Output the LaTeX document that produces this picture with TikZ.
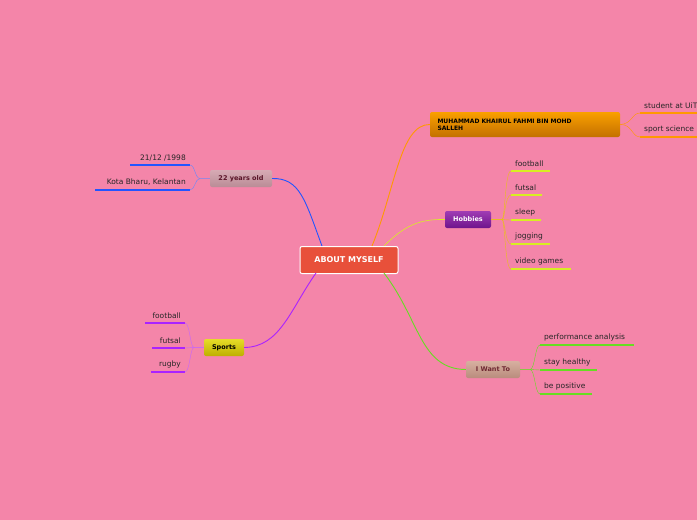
\documentclass[tikz,border=0pt]{standalone}
\usepackage{fontspec}
\setmainfont{DejaVu Sans}
\begin{document}
\begin{tikzpicture}[x=1pt,y=-1pt,
  box/.style={rounded corners=2pt,minimum height=17pt,inner sep=2pt,font=\bfseries\fontsize{6.5}{7.5}\selectfont},
  leaf/.style={font=\fontsize{7.5}{8}\selectfont,text=black!85,anchor=south west,inner sep=1pt},
  br/.style={line width=0.9pt}]
\definecolor{bg}{HTML}{F485A9}
\definecolor{cblue}{HTML}{2255FF}
\definecolor{cpur}{HTML}{AA22FF}
\definecolor{cora}{HTML}{FF9900}
\definecolor{cyel}{HTML}{D8EE22}
\definecolor{cgrn}{HTML}{66DD22}
\fill[bg] (0,0) rectangle (697,520);
\useasboundingbox (0,0) rectangle (697,520);
\clip (0,0) rectangle (697,520);
% central
\node[box,draw=white,line width=1pt,fill={rgb,255:red,232;green,80;blue,58},text=white,minimum width=98pt,minimum height=27pt,font=\bfseries\fontsize{8}{9}\selectfont] (c) at (349,260) {ABOUT MYSELF};
\node[box,top color={rgb,255:red,250;green,160;blue,0},bottom color={rgb,255:red,195;green,112;blue,0},minimum width=190pt,minimum height=25pt,text width=175pt,align=left,font=\bfseries\fontsize{6}{7}\selectfont] (n) at (525,124.5) {MUHAMMAD KHAIRUL FAHMI BIN MOHD\\SALLEH};
\node[box,top color={rgb,255:red,160;green,60;blue,180},bottom color={rgb,255:red,110;green,20;blue,140},text=white,minimum width=46pt] (h) at (468,219.5) {Hobbies};
\node[box,top color={rgb,255:red,215;green,175;blue,160},bottom color={rgb,255:red,185;green,140;blue,125},text={rgb,255:red,110;green,40;blue,50},minimum width=54pt] (w) at (493,369.5) {I Want To};
\node[box,top color={rgb,255:red,215;green,170;blue,180},bottom color={rgb,255:red,185;green,140;blue,150},text={rgb,255:red,90;green,20;blue,40},minimum width=62pt] (y) at (241,178.5) {22 years old};
\node[box,top color={rgb,255:red,230;green,220;blue,40},bottom color={rgb,255:red,190;green,175;blue,0},minimum width=40pt] (s) at (224,347.5) {Sports};
% main branches
\draw[br,cblue] (322,246) .. controls (305,200) and (300,178) .. (y.east);
\draw[br,cpur] (316,273) .. controls (290,310) and (280,347) .. (s.east);
\draw[br,cora] (372,246) .. controls (395,190) and (400,124) .. (n.west);
\draw[br,cyel,line width=0.6pt] (384,246) .. controls (405,225) and (420,219) .. (h.west);
\draw[br,cgrn] (384,273) .. controls (420,320) and (420,369) .. (w.west);
% leaf macro
\newcommand\lf[6]{% name, x1, x2, y, color, text
  \draw[#5,line width=1.5pt] (#2,#4) -- (#3,#4) coordinate(#1);
  \node[leaf] at (#2+3,#4-3) {#6};}
\newcommand\lfr[6]{%
  \draw[#5,line width=1.5pt] (#2,#4) -- (#3,#4) coordinate(#1);
  \node[leaf,anchor=south east] at (#3-3,#4-3) {#6};}
% name leaves
\lf{n1}{640}{700}{113}{cora}{student at UiTM}
\lf{n2}{640}{700}{137}{cora}{sport science}
\foreach \t in {113,137} \draw[cora,line width=0.4pt] (n.east) .. controls (632,124) and (632,\t) .. (640,\t);
% hobbies
\lf{h1}{511}{550}{171}{cyel}{football}
\lf{h2}{511}{542}{195}{cyel}{futsal}
\lf{h3}{511}{541}{220}{cyel}{sleep}
\lf{h4}{511}{550}{244}{cyel}{jogging}
\lf{h5}{511}{571}{269}{cyel}{video games}
\foreach \t in {171,195,220,244,269} \draw[cyel!60!orange,line width=0.4pt] (h.east) -- (502,219.5) .. controls (505,219.5) and (505,\t) .. (511,\t);
% want
\lf{w1}{540}{634}{345}{cgrn}{performance analysis}
\lf{w2}{540}{597}{370}{cgrn}{stay healthy}
\lf{w3}{540}{592}{394}{cgrn}{be positive}
\foreach \t in {345,370,394} \draw[cgrn,line width=0.4pt] (w.east) -- (530,369.5) .. controls (535,369.5) and (535,\t) .. (540,\t);
% 22 years
\lfr{y1}{130}{190}{165}{cblue}{21/12 /1998}
\lfr{y2}{95}{190}{190}{cblue}{Kota Bharu, Kelantan}
\foreach \t in {165,190} \draw[cblue!70,line width=0.4pt] (y.west) -- (200,178.5) .. controls (195,178.5) and (195,\t) .. (190,\t);
% sports
\lfr{s1}{145}{185}{323}{cpur}{football}
\lfr{s2}{152}{185}{348}{cpur}{futsal}
\lfr{s3}{151}{185}{372}{cpur}{rugby}
\foreach \t in {323,348,372} \draw[cpur!70,line width=0.4pt] (s.west) -- (194,347.5) .. controls (190,347.5) and (190,\t) .. (185,\t);
\end{tikzpicture}
\end{document}
